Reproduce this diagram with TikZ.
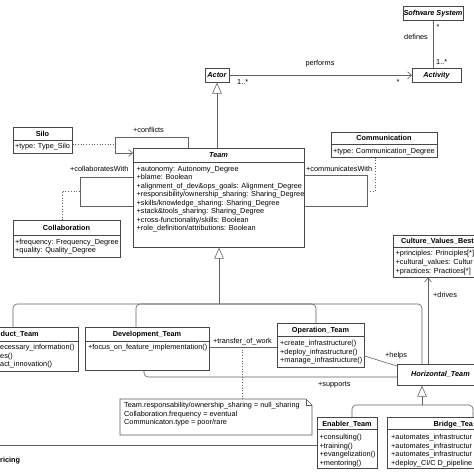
\documentclass[tikz,border=0pt]{standalone}
\usepackage{fontspec}
\setmainfont{Liberation Sans}
\usetikzlibrary{arrows.meta,calc}
\begin{document}
\begin{tikzpicture}[x=1pt,y=-1pt,
  every node/.style={font=\fontsize{7.3}{8.8}\selectfont},
  cls/.style={draw=black!72,line width=0.6pt,fill=white,inner sep=0pt,anchor=north west,rectangle},
  tx/.style={inner sep=0pt,anchor=base west},
  tt/.style={inner sep=0pt,anchor=base,font=\fontsize{7.3}{8.8}\selectfont\bfseries},
  tti/.style={inner sep=0pt,anchor=base,font=\fontsize{7.3}{8.8}\selectfont\bfseries\itshape},
  conn/.style={draw=black!62,line width=0.6pt},
  dots/.style={draw=black!62,line width=0.7pt,dotted},
  sepl/.style={draw=black!72,line width=0.6pt},
  oarrow/.style={-{Straight Barb[length=4pt,width=7pt]}},
  gen/.style={-{Triangle[open,length=11pt,width=9.5pt]}},
]
\useasboundingbox (0,0) rectangle (474,474);
\clip (0,0) rectangle (474,474);

% ---------- class boxes ----------
\node[cls,minimum width=60,minimum height=14] (sw) at (403,6) {};
\node[cls,minimum width=49,minimum height=14] (act) at (412,68) {};
\node[cls,minimum width=24,minimum height=14] (actor) at (205,68) {};
\node[cls,minimum width=171,minimum height=99] (team) at (133,148) {};
\node[cls,minimum width=59,minimum height=26] (silo) at (13,127) {};
\node[cls,minimum width=107,minimum height=37] (collab) at (13,220) {};
\node[cls,minimum width=106,minimum height=25] (comm) at (331,132) {};
\node[cls,minimum width=120,minimum height=42] (cult) at (393,235) {};
\node[cls,minimum width=123,minimum height=44] (prod) at (-45,327) {};
\node[cls,minimum width=124,minimum height=43] (dev) at (85,327) {};
\node[cls,minimum width=87,minimum height=44] (op) at (277,323) {};
\node[cls,minimum width=90,minimum height=21] (htm) at (397,364) {};
\node[cls,minimum width=60,minimum height=51] (enab) at (317,417) {};
\node[cls,minimum width=140,minimum height=51] (bridge) at (387,417) {};

% separators
\draw[sepl] (team.north west |- 0,162) -- (team.north east |- 0,162);
\draw[sepl] (silo.north west |- 0,140) -- (silo.north east |- 0,140);
\draw[sepl] (collab.north west |- 0,235) -- (collab.north east |- 0,235);
\draw[sepl] (comm.north west |- 0,144) -- (comm.north east |- 0,144);
\draw[sepl] (cult.north west |- 0,247) -- (cult.north east |- 0,247);
\draw[sepl] (prod.north west |- 0,341) -- (prod.north east |- 0,341);
\draw[sepl] (dev.north west |- 0,341) -- (dev.north east |- 0,341);
\draw[sepl] (op.north west |- 0,336) -- (op.north east |- 0,336);
\draw[sepl] (enab.north west |- 0,429) -- (enab.north east |- 0,429);
\draw[sepl] (bridge.north west |- 0,429) -- (bridge.north east |- 0,429);

% ---------- texts ----------
\node[tti] (swt) at (433,15.6) {Software System};
\node[tti] (actt) at (436.5,77.6) {Activity};
\node[tti] (actort) at (217,77.6) {Actor};
\node[tti] (teamt) at (218.5,157.6) {Team};
\node[tx] (ta1) at (136.5,171.1) {+autonomy: Autonomy\_Degree};
\node[tx] (ta2) at (136.5,179.6) {+blame: Boolean};
\node[tx] (ta3) at (136.5,188.1) {+alignment\_of\_dev\&ops\_goals: Alignment\_Degree};
\node[tx] (ta4) at (136.5,196.6) {+responsibility/ownership\_sharing: Sharing\_Degree};
\node[tx] (ta5) at (136.5,205.1) {+skills/knowledge\_sharing: Sharing\_Degree};
\node[tx] (ta6) at (136.5,213.6) {+stack\&tools\_sharing: Sharing\_Degree};
\node[tx] (ta7) at (136.5,222.1) {+cross-functionality/skills: Boolean};
\node[tx] (ta8) at (136.5,230.6) {+role\_definition/attributions: Boolean};

\node[tt] (silot) at (42.5,136.3) {Silo};
\node[tx] (siloa) at (15,148.3) {+type: Type\_Silo};
\node[tt] (collabt) at (66.5,230.3) {Collaboration};
\node[tx] (collaba1) at (15,244) {+frequency: Frequency\_Degree};
\node[tx] (collaba2) at (15,252.6) {+quality: Quality\_Degree};
\node[tt] (commt) at (384,140.6) {Communication};
\node[tx] (comma) at (333,153.6) {+type: Communication\_Degree};
\node[tt,anchor=base west] (cultt) at (401,243.6) {Culture\_Values\_Best};
\node[tx] (culta1) at (395.5,255.6) {+principles: Principles[*]};
\node[tx] (culta2) at (395.5,264.3) {+cultural\_values: Cultur};
\node[tx] (culta3) at (395.5,273) {+practices: Practices[*]};

\node[tt,anchor=base west] (prodt) at (0.5,336.6) {duct\_Team};
\node[tx] (proda1) at (0,349.6) {ecessary\_information()};
\node[tx] (proda2) at (0,358.1) {es()};
\node[tx] (proda3) at (0,366.6) {act\_innovation()};
\node[tt] (devt) at (147,336.6) {Development\_Team};
\node[tx] (deva) at (88,349.6) {+focus\_on\_feature\_implementation()};
\node[tt] (opt) at (320.5,332.6) {Operation\_Team};
\node[tx] (opa1) at (280,345.6) {+create\_infrastructure()};
\node[tx] (opa2) at (280,354.1) {+deploy\_infrastructure()};
\node[tx] (opa3) at (280,362.6) {+manage\_infrastructure()};
\node[tti,anchor=base west] (htmt) at (411,376.6) {Horizontal\_Team};
\node[tt] (enabt) at (347,426.6) {Enabler\_Team};
\node[tx] (enaba1) at (319.5,439.6) {+consulting()};
\node[tx] (enaba2) at (319.5,448.1) {+training()};
\node[tx] (enaba3) at (319.5,456.6) {+evangelization()};
\node[tx] (enaba4) at (319.5,465.1) {+mentoring()};
\node[tt,anchor=base west] (bridget) at (433.5,426.6) {Bridge\_Tea};
\node[tx] (bra1) at (391,439.6) {+automates\_infrastructur};
\node[tx] (bra2) at (391,448.1) {+automates\_infrastructur};
\node[tx] (bra3) at (391,456.6) {+automates\_infrastructur};
\node[tx] (bra4) at (391,465.1) {+deploy\_CI/C D\_pipeline};
\node[tt,anchor=base west] (ricing) at (0,462.6) {ricing};

% ---------- note ----------
\coordinate (notetop) at (242,399);
\draw[draw=black!65,line width=0.6pt,fill=white] (120,399) -- (306,399) -- (312,405) -- (312,435) -- (120,435) -- cycle;
\draw[draw=black!65,line width=0.6pt] (306,399) -- (306,405) -- (312,405);
\node[tx] (n1) at (124,407.6) {Team.responsability/ownership\_sharing = null\_sharing};
\node[tx] (n2) at (124,416.1) {Collaboration.frequency = eventual};
\node[tx] (n3) at (124,424.6) {Communicaton.type = poor/rare};

% ---------- connectors ----------
% defines
\draw[conn] (433,0 |- sw.south) -- (433,0 |- act.north);
\node[tx] (m1) at (436.5,29) {*};
\node[inner sep=0,anchor=base] (defl) at (416,39.6) {defines};
\node[tx] (m2) at (436,64.5) {1..*};
% performs
\draw[conn,oarrow] (actor.east) -- (act.west);
\node[inner sep=0,anchor=base] (perfl) at (320,65.6) {performs};
\node[tx] (m3) at (237,84.5) {1..*};
\node[tx] (m4) at (396.5,84.5) {*};
% Team -> Actor
\draw[conn,gen] (217,0 |- team.north) -- (217,0 |- actor.south);
% conflicts
\draw[conn,oarrow] (188,0 |- team.north) -- (188,137) -- (115,137) -- (115,153) -- (team.west |- 0,153);
\node[tx] (confl) at (133,132.6) {+conflicts};
\draw[dots] (silo.east |- 0,144) -- (115,144);
% collaboratesWith
\draw[conn] (team.west |- 0,177) -- (80,177) -- (80,206) -- (team.west |- 0,206);
\node[tx] (collabl) at (70,171.6) {+collaboratesWith};
\draw[dots] (62,0 |- collab.north) -- (62,191) -- (80,191);
% communicatesWith
\draw[conn] (team.east |- 0,175) -- (367,175) -- (367,206) -- (team.east |- 0,206);
\node[tx] (comml) at (306,171.6) {+communicatesWith};
\draw[dots] (375,0 |- comm.south) -- (375,191) -- (367,191);
% generalisation tree under Team
\coordinate (tj) at (219,304);
\draw[conn,gen] (tj) -- (219,0 |- team.south);
\draw[conn,rounded corners=4] (tj) -| (13,0 |- prod.north);
\draw[conn,rounded corners=4] (tj) -| (136,0 |- dev.north);
\draw[conn,rounded corners=4] (tj) -| (316,0 |- op.north);
\draw[conn,rounded corners=4] (tj) -| (422,0 |- htm.north);
% drives
\draw[conn,oarrow] (428,0 |- htm.north) -- (428,0 |- cult.south);
\node[tx] (drl) at (433,297.6) {+drives};
% transfer of work
\draw[conn] (dev.east |- 0,347) -- (op.west |- 0,347);
\node[tx] (trl) at (213,343.6) {+transfer\_of\_work};
\draw[dots] (242,347) -- (notetop);
% helps
\draw[conn] (op.north east |- 0,356) -- (htm.north west |- 0,366);
\node[tx] (hel) at (385,357.6) {+helps};
% supports
\draw[conn,rounded corners=4] (144,0 |- dev.south) |- (htm.west |- 0,377);
\node[tx] (supl) at (318,386.6) {+supports};
% generalisation under Horizontal_Team
\coordinate (hj) at (422,405);
\draw[conn,gen] (hj) -- (422,0 |- htm.south);
\draw[conn,rounded corners=4] (hj) -| (352,0 |- enab.north);
\draw[conn,rounded corners=4] (hj) -| (473,0 |- bridge.north);
% line at the bottom left
\coordinate (lft) at (-5,445);
\draw[conn,line width=0.9pt] (lft) -- (enab.north west |- 0,445);
\end{tikzpicture}
\end{document}
